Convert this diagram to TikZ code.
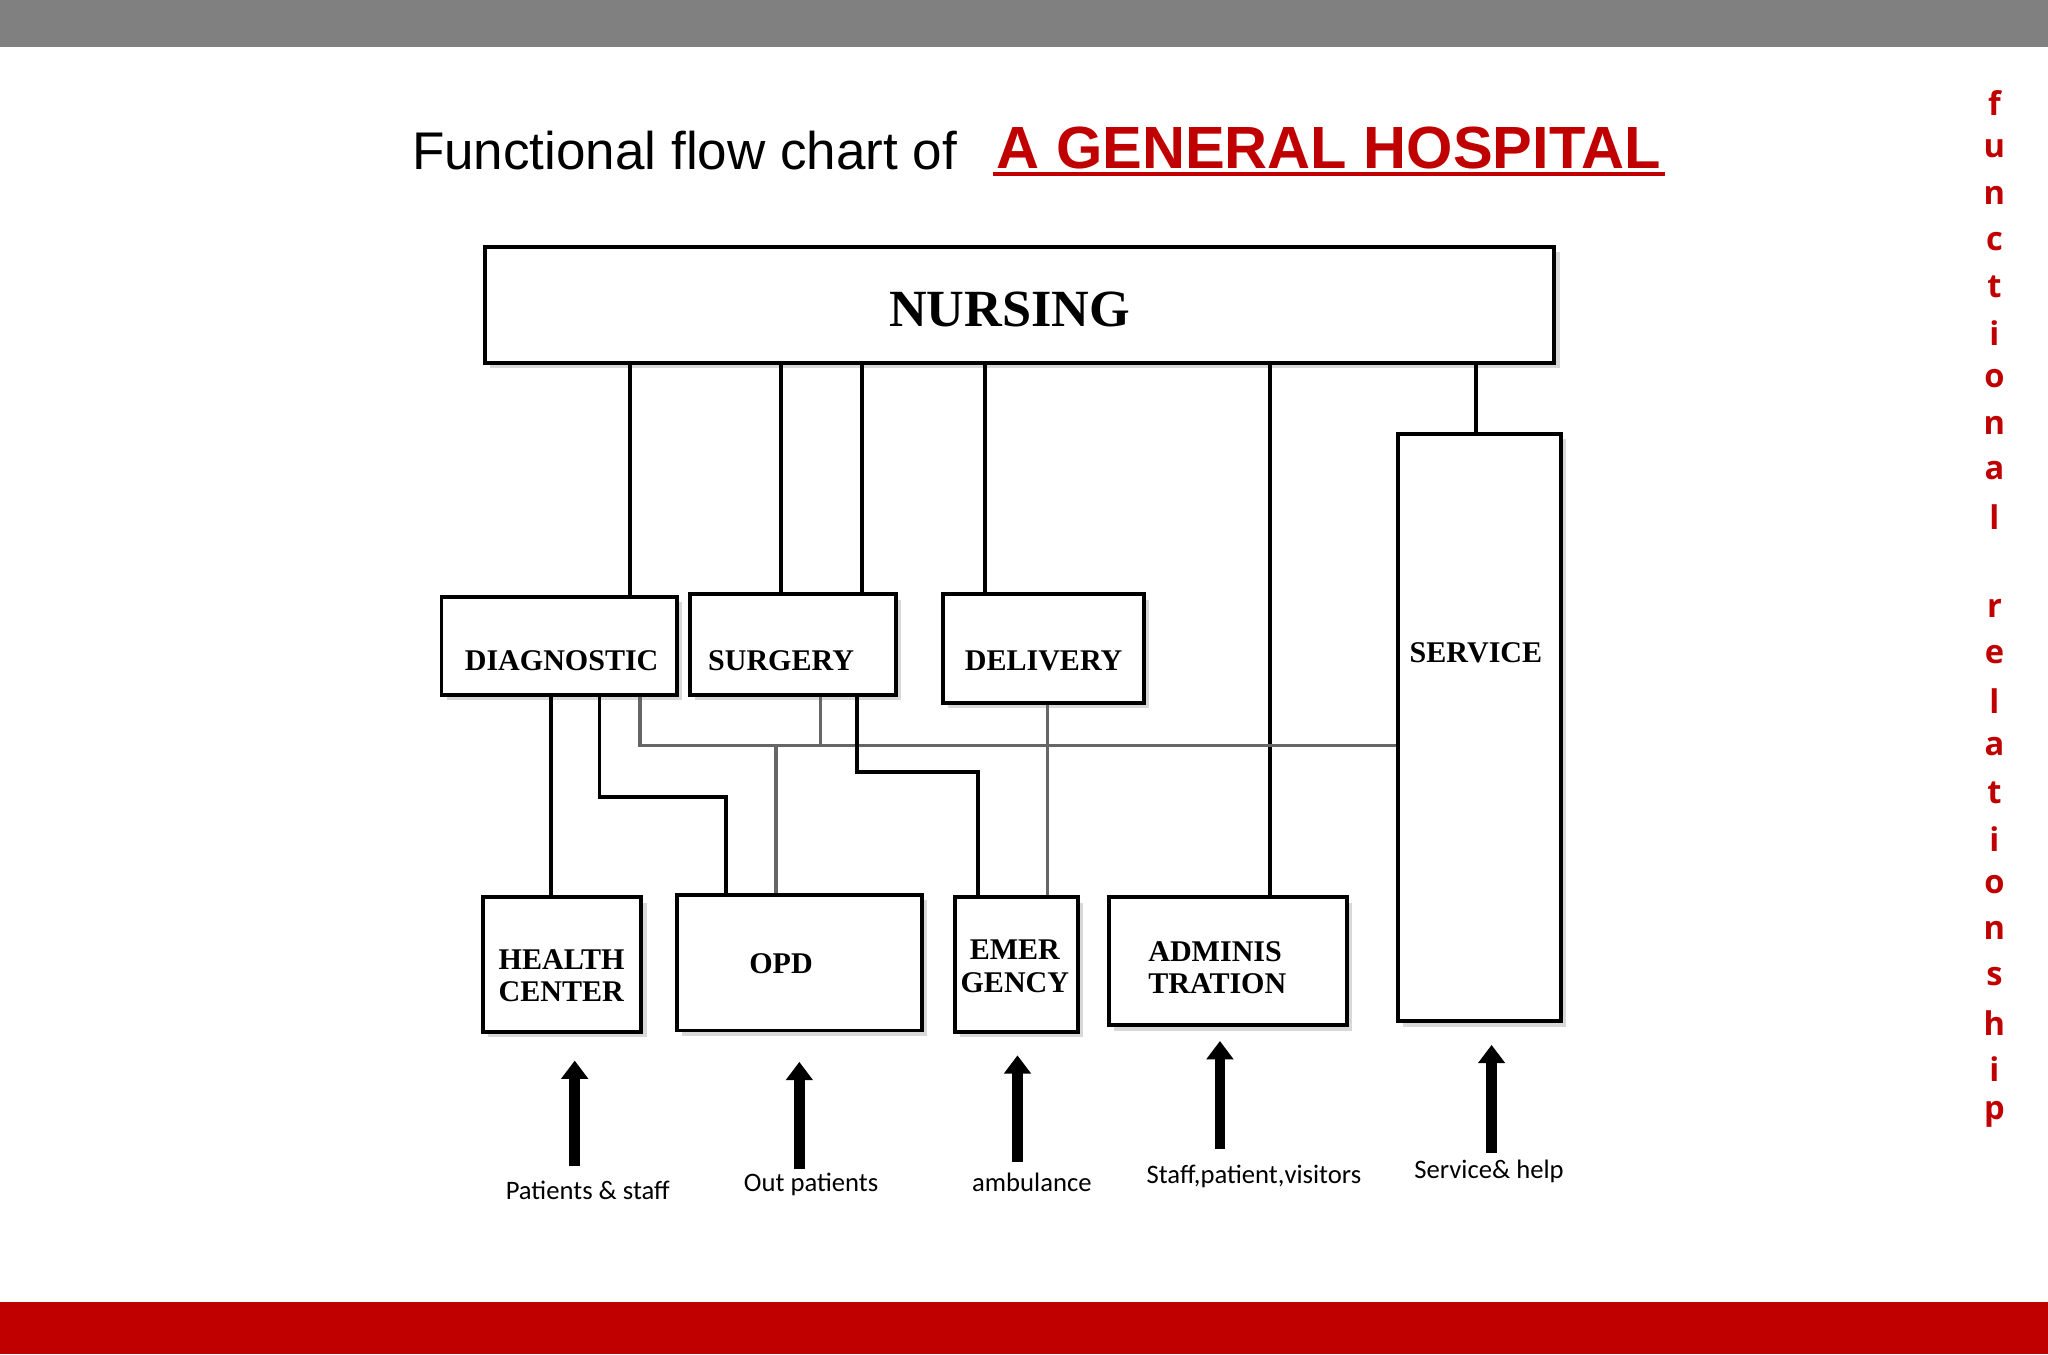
\documentclass[tikz,border=0pt]{standalone}
\usepackage{fontspec}
\setmainfont{Liberation Serif}
\newfontfamily\arialfnt{Liberation Sans}
\newfontfamily\calfnt{Carlito}
\newfontfamily\opensfnt{Open Sans}
\usetikzlibrary{arrows.meta,shadows}
\definecolor{hred}{RGB}{192,0,0}
\begin{document}
\begin{tikzpicture}[x=0.5pt,y=-0.5pt,
  box/.style={draw,line width=1.5pt,fill=white,inner sep=0pt,
     drop shadow={shadow xshift=2pt,shadow yshift=-2pt,fill=gray!60}},
  txt/.style={inner sep=0pt,align=left,font=\bfseries\fontsize{11.5}{12}\selectfont},
  ln/.style={line width=1.5pt},
  gln/.style={line width=1.3pt,gray!80!black},
  up/.style={line width=4pt,-{Triangle[width=10pt,length=7pt]}},
  lab/.style={font=\calfnt\fontsize{10.2}{11}\selectfont},
  vl/.style={font=\opensfnt\bfseries\fontsize{12.5}{13}\selectfont,text=hred}]
\useasboundingbox (0,0) rectangle (1568,1037);
\fill[black!50] (0,0) rectangle (1568,36);
\fill[hred] (0,997) rectangle (1568,1037);
\node[anchor=east,font=\arialfnt\fontsize{20.3}{22}\selectfont] (t1) at (740,115) {Functional flow chart of};
\node[anchor=west,font=\arialfnt\bfseries\fontsize{22.8}{24}\selectfont,text=hred] (t2) at (756,113) {A GENERAL HOSPITAL};
\draw[hred,line width=1.2pt] ([xshift=2pt,yshift=1.5pt]t2.south west) -- ([xshift=-2pt,yshift=1.5pt]t2.south east);
\foreach \c [count=\i] in {f,u,n,c,t,i,o,n,a,l,{},r,e,l,a,t,i,o,n,s,h,i,p}
  \node[vl] (v\i) at (1527,{79+(\i-1)*35.2}) {\c};
\node[box,minimum width=409.5pt,minimum height=44.5pt] (nurs) at (780.5,233.5) {};
\node[txt,font=\bfseries\fontsize{20}{20}\selectfont] (nurst) at (773,237) {NURSING};
\node[box,minimum width=90pt,minimum height=37.5pt] (diag) at (428,494.5) {};
\node[txt] (diagt) at (430,506) {DIAGNOSTIC};
\node[box,minimum width=79pt,minimum height=38.5pt] (surg) at (607,493.5) {};
\node[txt] (surgt) at (598,506) {SURGERY};
\node[box,minimum width=77pt,minimum height=41.5pt] (deliv) at (799,496.5) {};
\node[txt] (delivt) at (799,506) {DELIVERY};
\node[box,minimum width=62.5pt,minimum height=225pt] (serv) at (1132.5,557) {};
\node[txt] (servt) at (1130,500) {SERVICE};
\node[box,minimum width=60.5pt,minimum height=51.5pt] (health) at (430.5,738.5) {};
\node[txt,font=\bfseries\fontsize{11.5}{12.5}\selectfont] (healtht) at (430,747) {HEALTH\\CENTER};
\node[box,minimum width=94pt,minimum height=52pt] (opd) at (612,737) {};
\node[txt] (opdt) at (598,738) {OPD};
\node[box,minimum width=47pt,minimum height=51.5pt] (emer) at (778,738.5) {};
\node[txt,align=center,font=\bfseries\fontsize{11.5}{12.5}\selectfont] (emert) at (777,740) {EMER\\GENCY};
\node[box,minimum width=91pt,minimum height=49pt] (admin) at (940,736) {};
\node[txt,font=\bfseries\fontsize{11.5}{12.5}\selectfont] (admint) at (932,741) {ADMINIS\\TRATION};
\draw[ln] (482,0 |- nurs.south) -- (482,0 |- diag.north);
\draw[ln] (598,0 |- nurs.south) -- (598,0 |- surg.north);
\draw[ln] (660,0 |- nurs.south) -- (660,0 |- surg.north);
\draw[ln] (754,0 |- nurs.south) -- (754,0 |- deliv.north);
\draw[ln] (972,0 |- nurs.south) -- (972,0 |- admin.north);
\draw[ln] (1130,0 |- nurs.south) -- (1130,0 |- serv.north);
\draw[gln] (490,0 |- diag.south) |- (serv.west |- 0,571);
\draw[gln] (628,0 |- surg.south) -- (628,571);
\draw[gln] (594,571) -- (594,0 |- opd.north);
\draw[gln] (802,0 |- deliv.south) -- (802,0 |- emer.north);
\draw[ln] (422,0 |- diag.south) -- (422,0 |- health.north);
\draw[ln] (459,0 |- diag.south) -- (459,610) -- (556,610) -- (556,0 |- opd.north);
\draw[ln] (656,0 |- surg.south) -- (656,591) -- (749,591) -- (749,0 |- emer.north);
\coordinate (a1s) at (440,893); \coordinate (a1e) at (440,812);
\coordinate (a2s) at (612,895); \coordinate (a2e) at (612,813);
\coordinate (a3s) at (779,890); \coordinate (a3e) at (779,808);
\coordinate (a4s) at (934,880); \coordinate (a4e) at (934,797);
\coordinate (a5s) at (1142,883); \coordinate (a5e) at (1142,800);
\foreach \i in {1,...,5} \draw[up] (a\i s) -- (a\i e);
\node[lab] (l1) at (450,911) {Patients \& staff};
\node[lab] (l2) at (621,907) {Out patients};
\node[lab] (l3) at (790,905) {ambulance};
\node[lab] (l4) at (960,901) {Staff,patient,visitors};
\node[lab] (l5) at (1140,897) {Service\& help};
\end{tikzpicture}
\end{document}
